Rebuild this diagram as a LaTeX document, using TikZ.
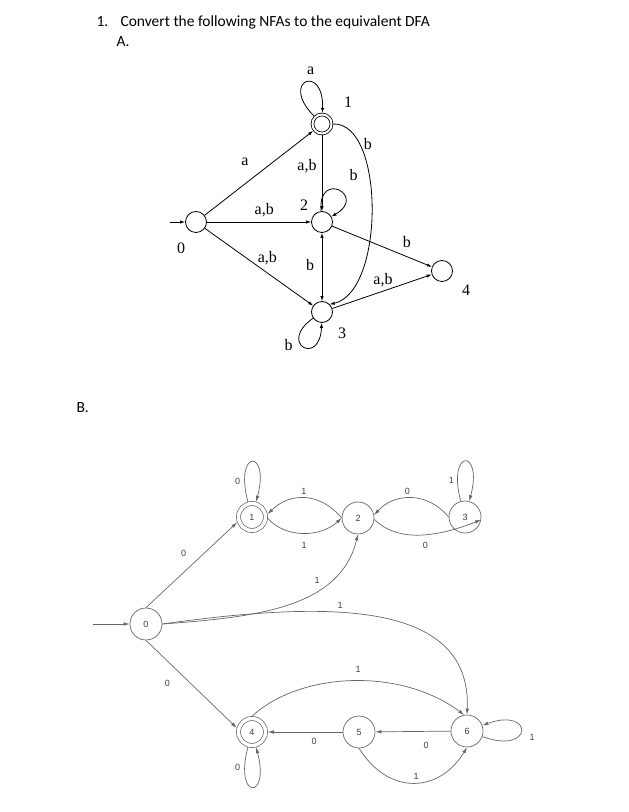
\documentclass[tikz,border=0pt]{standalone}
\usepackage{fontspec}
\setmainfont{Carlito}
\newfontfamily\nfafont{Liberation Serif}
\newfontfamily\dfafont{Liberation Sans}
\usetikzlibrary{arrows.meta}
\definecolor{dfaline}{gray}{0.4}
\definecolor{dfatext}{gray}{0.25}
\tikzset{
    nfa/.style = { draw, circle, minimum size=21pt, inner sep=0pt, line width=0.8pt },
    nfaacc/.style = { nfa, minimum size=19pt, double, double distance=2pt, outer sep=1.7pt },
    nfaedge/.style = { line width=0.8pt, -{Latex[length=5pt,width=3.4pt]} },
    nfalabel/.style = { font=\nfafont\fontsize{16}{16}\selectfont, inner sep=0pt },
    dfa/.style = { draw=dfaline, circle, minimum size=32pt, inner sep=0pt, line width=0.7pt,
                   text=dfatext, font=\dfafont\fontsize{9}{9}\selectfont },
    dfaacc/.style = { dfa, minimum size=27pt, double, double distance=3.4pt, outer sep=2.3pt },
    dfaedge/.style = { draw=dfaline, line width=0.7pt, -{Latex[length=6pt,width=3.6pt]} },
    dfalabel/.style = { text=dfatext, font=\dfafont\fontsize{9}{9}\selectfont, inner sep=0pt },
    heading/.style = { anchor=base west, font=\fontsize{15.5}{17}\selectfont }
}

\begin{document}
\begin{tikzpicture}[
    x=1pt, y=1pt,
    nfa/.style = { draw, circle, minimum size=21pt, inner sep=0pt, line width=0.8pt },
    nfaedge/.style = { line width=0.8pt, -{Latex[length=5pt,width=3.4pt]} },
    dfaedge/.style = { draw=dfaline, line width=0.7pt, -{Latex[length=6pt,width=3.6pt]} }
    ]
    \useasboundingbox (0,0) rectangle (629,812);

    %%%
    %%% Heading
    %%%
    \node (num)   at (93,785)  [heading] {1.};
    \node (title) at (117,785) [heading] {Convert the following NFAs to the equivalent DFA};
    \node (partA) at (113,765) [heading] {A.};
    \node (partB) at (73,399)  [heading] {B.};

    %%%
    %%% A. NFA
    %%%
    % States
    \foreach \name / \x / \y in {A0/196/590, A2/322/590, A3/322/500, A4/442/541}
      {
        \node[nfa] (\name) at (\x,\y) {};
      }
    \node[nfaacc] (A1) at (322,688) {};
    % State names
    \foreach \name / \x / \y / \txt in {nameA0/181/564/0, nameA1/348/710/1, nameA2/304/607/2, nameA3/342/479/3, nameA4/466/522/4}
      {
        \node[nfalabel] (\name) at (\x,\y) {\txt};
      }
    % Transitions
    \coordinate (startA) at (170,590);
    \draw[nfaedge] (startA) -- (A0);
    \draw[nfaedge] (A0) -- node[nfalabel, xshift=-14pt, yshift=11pt] {a} (A1);
    \draw[nfaedge] (A0) -- node[nfalabel, pos=.55, yshift=12pt] {a,b} (A2);
    \draw[nfaedge] (A0) -- node[nfalabel, pos=.55, xshift=3pt, yshift=13pt] {a,b} (A3);
    \draw[nfaedge] (A1) -- node[nfalabel, pos=.4, xshift=-15pt, yshift=-1pt] {a,b} (A2);
    \draw[nfaedge, {Latex[length=5pt,width=3.4pt]}-{Latex[length=5pt,width=3.4pt]}] (A2) -- node[nfalabel, xshift=-12pt, yshift=2pt] {b} (A3);
    \draw[nfaedge] (A2) -- node[nfalabel, pos=.75, yshift=15pt] {b} (A4);
    \draw[nfaedge] (A3) -- node[nfalabel, xshift=1pt, yshift=11pt] {a,b} (A4);
    \draw[nfaedge] (A1.east) .. controls (385,690) and (385,520) .. node[nfalabel, pos=.22, xshift=8pt] {b} (A3.north east);
    % Self loops
    \draw[nfaedge] (A1) to[out=135, in=88, distance=50pt] node[nfalabel, xshift=5pt, yshift=12pt] {a} (A1);
    \draw[nfaedge] (A2) to[out=95, in=30, distance=42pt] node[nfalabel, xshift=15pt, yshift=15pt] {b} (A2);
    \draw[nfaedge] (A3) to[out=215, in=268, distance=44pt] node[nfalabel, pos=.3, xshift=-10pt, yshift=-6pt] {b} (A3);

    %%%
    %%% B. DFA
    %%%
    % States
    \foreach \name / \x / \y / \txt in {B0/146/188/0, B2/358/294/2, B3/465/295/3, B5/359/80/5, B6/467/81/6}
      {
        \node[dfa] (\name) at (\x,\y) {\txt};
      }
    \node[dfaacc] (B1) at (252,295) {1};
    \node[dfaacc] (B4) at (252,80) {4};
    % Transitions
    \coordinate (startB) at (93,188);
    \draw[dfaedge] (startB) -- (B0);
    \draw[dfaedge] (B0.north) -- node[dfalabel, xshift=-8pt, yshift=12pt] {0} (B1.200);
    \draw[dfaedge] (B0.south) -- node[dfalabel, xshift=-24pt, yshift=1pt] {0} (B4.165);
    \draw[dfaedge] (B0.east) .. controls (260,195) and (340,205) .. node[dfalabel, pos=.65, xshift=-1pt, yshift=10pt] {1} (B2.south);
    \draw[dfaedge] (B0.east) .. controls (320,210) and (472,215) .. node[dfalabel, pos=.4, xshift=1pt, yshift=7pt] {1} (B6.north);
    \draw[dfaedge] (B2.west) .. controls (320,320) and (290,320) .. node[dfalabel, xshift=-1pt, yshift=7pt] {1} (B1.10);
    \draw[dfaedge] (B1.-5) .. controls (285,274) and (320,274) .. node[dfalabel, xshift=1pt, yshift=-12pt] {1} (B2.west);
    \draw[dfaedge] (B3.west) .. controls (428,320) and (395,320) .. node[dfalabel, xshift=-4pt, yshift=7pt] {0} (B2.10);
    \draw[dfaedge] (B2.-5) .. controls (395,272) and (430,272) .. node[dfalabel, xshift=9pt, yshift=-10pt] {0} (B3.-10);
    \draw[dfaedge] (B4.north) .. controls (300,140) and (400,145) .. node[dfalabel, xshift=6pt, yshift=12pt] {1} (B6.100);
    \draw[dfaedge] (B5) -- node[dfalabel, xshift=9pt, yshift=-9pt] {0} (B4);
    \draw[dfaedge] (B6) -- node[dfalabel, xshift=13pt, yshift=-14pt] {0} (B5);
    \draw[dfaedge] (B5.south) .. controls (390,15) and (440,20) .. node[dfalabel, xshift=1.5pt, yshift=6pt] {1} (B6.south);
    % Self loops
    \draw[dfaedge] (B1) to[out=105, in=75, distance=55pt] node[dfalabel, pos=.15, xshift=-7pt] {0} (B1);
    \draw[dfaedge] (B3) to[out=105, in=75, distance=55pt] node[dfalabel, pos=.15, xshift=-6pt] {1} (B3);
    \draw[dfaedge] (B4) to[out=255, in=285, distance=55pt] node[dfalabel, pos=.15, xshift=-7pt] {0} (B4);
    \draw[dfaedge] (B6) to[out=-20, in=20, distance=55pt] node[dfalabel, xshift=11pt, yshift=-6pt] {1} (B6);
\end{tikzpicture}
\end{document}
